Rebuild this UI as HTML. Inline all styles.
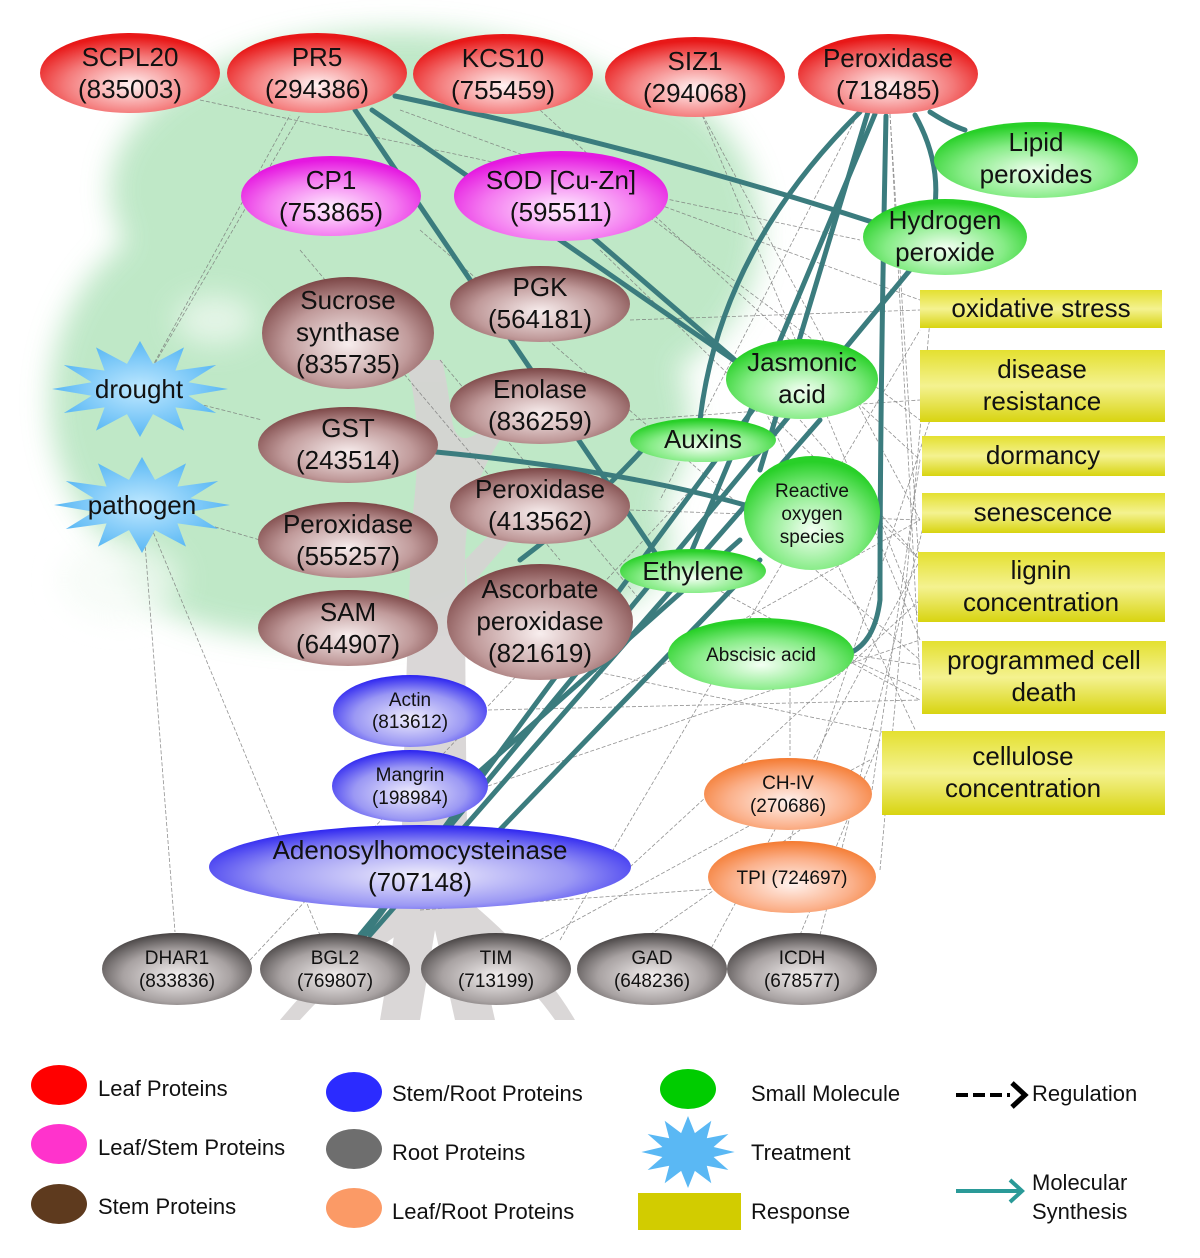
<!DOCTYPE html>
<html><head><meta charset="utf-8"><style>
html,body{margin:0;padding:0;background:#fff;}
svg{display:block;font-family:"Liberation Sans",Arial,sans-serif;}
</style></head><body>
<svg width="1200" height="1258" viewBox="0 0 1200 1258" xmlns="http://www.w3.org/2000/svg">
<defs>
<filter id="blur" x="-20%" y="-20%" width="140%" height="140%"><feGaussianBlur stdDeviation="14"/></filter>
<radialGradient id="gR" cx="50%" cy="65%" r="60%"><stop offset="0" stop-color="#fff3f3"/><stop offset="0.6" stop-color="#f47a7a"/><stop offset="1" stop-color="#e81818"/></radialGradient>
<radialGradient id="gM" cx="50%" cy="65%" r="60%"><stop offset="0" stop-color="#fff0ff"/><stop offset="0.6" stop-color="#f47af0"/><stop offset="1" stop-color="#e518e0"/></radialGradient>
<radialGradient id="gB" cx="50%" cy="60%" r="60%"><stop offset="0" stop-color="#f8eeee"/><stop offset="0.6" stop-color="#c09a9a"/><stop offset="1" stop-color="#7c4646"/></radialGradient>
<radialGradient id="gU" cx="50%" cy="60%" r="60%"><stop offset="0" stop-color="#f0eefc"/><stop offset="0.6" stop-color="#9b98f4"/><stop offset="1" stop-color="#2a22f0"/></radialGradient>
<radialGradient id="gG" cx="50%" cy="60%" r="60%"><stop offset="0" stop-color="#f4f0f0"/><stop offset="0.6" stop-color="#a8a2a2"/><stop offset="1" stop-color="#464242"/></radialGradient>
<radialGradient id="gO" cx="50%" cy="60%" r="60%"><stop offset="0" stop-color="#fff2ee"/><stop offset="0.6" stop-color="#fbb08a"/><stop offset="1" stop-color="#f47a30"/></radialGradient>
<radialGradient id="gN" cx="50%" cy="65%" r="60%"><stop offset="0" stop-color="#f4fff4"/><stop offset="0.6" stop-color="#86ec86"/><stop offset="1" stop-color="#28d028"/></radialGradient>
<linearGradient id="gY" x1="0" y1="0" x2="0" y2="1"><stop offset="0" stop-color="#e4e030"/><stop offset="0.5" stop-color="#f4f290"/><stop offset="1" stop-color="#d8d410"/></linearGradient>
<path id="star" d="M88,0 L48.3,6.7 L76.2,24 L35.4,18.4 L44,41.6 L13,25.1 L0,48 L-13,25.1 L-44,41.6 L-35.4,18.4 L-76.2,24 L-48.3,6.7 L-88,0 L-48.3,-6.7 L-76.2,-24 L-35.4,-18.4 L-44,-41.6 L-13,-25.1 L0,-48 L13,-25.1 L44,-41.6 L35.4,-18.4 L76.2,-24 L48.3,-6.7 Z"/>
<radialGradient id="gS" cx="50%" cy="50%" r="50%"><stop offset="0" stop-color="#bfe8ff"/><stop offset="1" stop-color="#5ab8f4"/></radialGradient>
</defs>

<g filter="url(#blur)" fill="#b4e4be" opacity="0.85">
<ellipse cx="400" cy="190" rx="290" ry="160"/>
<ellipse cx="220" cy="400" rx="170" ry="190"/>
<ellipse cx="470" cy="420" rx="220" ry="170"/>
<ellipse cx="620" cy="230" rx="140" ry="150"/>
<ellipse cx="320" cy="570" rx="190" ry="70"/>
<ellipse cx="560" cy="540" rx="110" ry="80"/>
</g>
<g fill="#f4fbf5" filter="url(#blur)" opacity="0.7">
<ellipse cx="215" cy="320" rx="40" ry="25"/>
<ellipse cx="120" cy="580" rx="60" ry="40"/>
</g>
<g fill="#d6d3d3" opacity="0.9">
<path d="M405,360 Q425,420 412,520 Q405,700 400,900 L380,1020 L420,1020 L435,930 L455,1020 L495,1020 L468,900 Q465,700 465,560 Q465,480 515,420 L500,412 Q458,460 452,420 Q447,380 442,360 Z"/>
<path d="M465,560 Q520,500 580,470 L585,480 Q530,510 468,590 Z"/>
<path d="M400,900 Q330,960 280,1020 L300,1020 Q350,965 405,930 Z"/>
<path d="M468,900 Q540,960 575,1020 L555,1020 Q520,970 462,930 Z"/>
</g>

<g stroke="#777" stroke-width="0.8" stroke-dasharray="4,2" fill="none" opacity="0.8">
<path d="M140,389 L290,115"/><path d="M140,389 L300,115"/><path d="M140,389 L262,420"/><path d="M140,505 L260,540"/><path d="M142,505 L175,932"/><path d="M142,505 L320,935"/>
<path d="M200,100 L860,240"/><path d="M400,110 L920,300"/><path d="M540,110 L920,460"/><path d="M700,110 L920,520"/>
<path d="M890,114 L920,580"/><path d="M890,114 L920,680"/><path d="M860,110 L660,500"/>
<path d="M420,230 L920,660"/><path d="M630,320 L920,310"/><path d="M630,420 L920,400"/><path d="M630,510 L920,520"/>
<path d="M853,655 L920,665"/><path d="M853,660 L920,690"/><path d="M488,710 L920,700"/><path d="M488,786 L920,640"/>
<path d="M630,867 L920,600"/><path d="M700,969 L920,560"/><path d="M820,935 L930,500"/><path d="M790,840 L930,420"/>
<path d="M560,940 L920,330"/><path d="M880,870 L930,320"/><path d="M872,790 L920,460"/><path d="M790,620 L790,757"/>
<path d="M250,960 L700,480"/><path d="M440,360 L640,600"/><path d="M300,250 L560,560"/><path d="M600,250 L920,560"/>
<path d="M800,420 L920,560"/><path d="M880,520 L920,620"/><path d="M700,580 L920,700"/><path d="M540,660 L920,740"/>
<path d="M540,940 L870,760"/><path d="M420,910 L840,880"/><path d="M650,935 L800,830"/><path d="M800,935 L880,740"/>
<path d="M700,110 L920,640"/><path d="M640,210 L920,420"/><path d="M760,400 L920,740"/><path d="M600,700 L920,520"/>
</g>

<g stroke="#3b7c7e" stroke-width="5" fill="none" stroke-linecap="round">
<path d="M395,96 Q650,150 872,222"/>
<path d="M355,110 L660,560"/>
<path d="M372,110 Q560,240 745,368"/>
<path d="M590,235 L742,366"/>
<path d="M860,112 Q720,250 700,420"/>
<path d="M868,112 L760,470"/>
<path d="M875,114 L690,555"/>
<path d="M886,116 Q880,400 880,600 Q875,640 852,652"/>
<path d="M930,112 Q950,125 965,130"/>
<path d="M915,115 Q940,160 935,205"/>
<path d="M436,452 Q620,470 745,505"/>
<path d="M360,935 L910,270"/>
<path d="M365,935 L760,400"/>
<path d="M370,935 L820,420"/>
<path d="M470,780 L740,540"/>
<path d="M490,840 L760,560"/>
<path d="M520,560 Q600,500 660,430"/>
</g>

<g fill="url(#gY)">
<rect x="920" y="290" width="242" height="38"/>
<rect x="920" y="350" width="245" height="72"/>
<rect x="922" y="436" width="243" height="40"/>
<rect x="922" y="493" width="243" height="40"/>
<rect x="918" y="552" width="247" height="70"/>
<rect x="922" y="641" width="244" height="73"/>
<rect x="882" y="731" width="283" height="84"/>
</g>
<g font-size="26" text-anchor="middle" fill="#111">
<text x="1041" y="317">oxidative stress</text>
<text x="1042" y="378">disease</text><text x="1042" y="410">resistance</text>
<text x="1043" y="464">dormancy</text>
<text x="1043" y="521">senescence</text>
<text x="1041" y="579">lignin</text><text x="1041" y="611">concentration</text>
<text x="1044" y="669">programmed cell</text><text x="1044" y="701">death</text>
<text x="1023" y="765">cellulose</text><text x="1023" y="797">concentration</text>
</g>

<use href="#star" transform="translate(140,389)" fill="url(#gS)"/>
<use href="#star" transform="translate(142,505)" fill="url(#gS)"/>
<g font-size="26" text-anchor="middle" fill="#111">
<text x="139" y="398">drought</text><text x="142" y="514">pathogen</text>
</g>

<g>
<ellipse cx="130" cy="73" rx="90" ry="40" fill="url(#gR)"/>
<ellipse cx="317" cy="73" rx="90" ry="40" fill="url(#gR)"/>
<ellipse cx="503" cy="74" rx="90" ry="40" fill="url(#gR)"/>
<ellipse cx="695" cy="77" rx="90" ry="40" fill="url(#gR)"/>
<ellipse cx="888" cy="74" rx="90" ry="40" fill="url(#gR)"/>
<ellipse cx="1036" cy="160" rx="102" ry="38" fill="url(#gN)"/>
<ellipse cx="945" cy="237" rx="82" ry="38" fill="url(#gN)"/>
<ellipse cx="331" cy="196" rx="90" ry="40" fill="url(#gM)"/>
<ellipse cx="561" cy="196" rx="107" ry="45" fill="url(#gM)"/>
<ellipse cx="348" cy="333" rx="86" ry="56" fill="url(#gB)"/>
<ellipse cx="540" cy="304" rx="90" ry="38" fill="url(#gB)"/>
<ellipse cx="540" cy="406" rx="90" ry="38" fill="url(#gB)"/>
<ellipse cx="348" cy="445" rx="90" ry="38" fill="url(#gB)"/>
<ellipse cx="540" cy="506" rx="90" ry="38" fill="url(#gB)"/>
<ellipse cx="348" cy="540" rx="90" ry="38" fill="url(#gB)"/>
<ellipse cx="348" cy="628" rx="90" ry="38" fill="url(#gB)"/>
<ellipse cx="540" cy="622" rx="93" ry="58" fill="url(#gB)"/>
<ellipse cx="802" cy="379" rx="76" ry="40" fill="url(#gN)"/>
<ellipse cx="703" cy="440" rx="73" ry="22" fill="url(#gN)"/>
<ellipse cx="812" cy="513" rx="68" ry="57" fill="url(#gN)"/>
<ellipse cx="693" cy="571" rx="73" ry="22" fill="url(#gN)"/>
<ellipse cx="761" cy="654" rx="93" ry="36" fill="url(#gN)"/>
<ellipse cx="410" cy="711" rx="77" ry="36" fill="url(#gU)"/>
<ellipse cx="410" cy="786" rx="78" ry="36" fill="url(#gU)"/>
<ellipse cx="420" cy="867" rx="211" ry="42" fill="url(#gU)"/>
<ellipse cx="788" cy="794" rx="84" ry="36" fill="url(#gO)"/>
<ellipse cx="792" cy="877" rx="84" ry="36" fill="url(#gO)"/>
<ellipse cx="177" cy="969" rx="75" ry="36" fill="url(#gG)"/>
<ellipse cx="335" cy="969" rx="75" ry="36" fill="url(#gG)"/>
<ellipse cx="496" cy="969" rx="75" ry="36" fill="url(#gG)"/>
<ellipse cx="652" cy="969" rx="75" ry="36" fill="url(#gG)"/>
<ellipse cx="802" cy="969" rx="75" ry="36" fill="url(#gG)"/>
</g>

<g font-size="26" text-anchor="middle" fill="#111">
<text x="130" y="66">SCPL20</text><text x="130" y="98">(835003)</text>
<text x="317" y="66">PR5</text><text x="317" y="98">(294386)</text>
<text x="503" y="67">KCS10</text><text x="503" y="99">(755459)</text>
<text x="695" y="70">SIZ1</text><text x="695" y="102">(294068)</text>
<text x="888" y="67">Peroxidase</text><text x="888" y="99">(718485)</text>
<text x="1036" y="151">Lipid</text><text x="1036" y="183">peroxides</text>
<text x="945" y="229">Hydrogen</text><text x="945" y="261">peroxide</text>
<text x="331" y="189">CP1</text><text x="331" y="221">(753865)</text>
<text x="561" y="189">SOD [Cu-Zn]</text><text x="561" y="221">(595511)</text>
<text x="348" y="309">Sucrose</text><text x="348" y="341">synthase</text><text x="348" y="373">(835735)</text>
<text x="540" y="296">PGK</text><text x="540" y="328">(564181)</text>
<text x="540" y="398">Enolase</text><text x="540" y="430">(836259)</text>
<text x="348" y="437">GST</text><text x="348" y="469">(243514)</text>
<text x="540" y="498">Peroxidase</text><text x="540" y="530">(413562)</text>
<text x="348" y="533">Peroxidase</text><text x="348" y="565">(555257)</text>
<text x="348" y="621">SAM</text><text x="348" y="653">(644907)</text>
<text x="540" y="598">Ascorbate</text><text x="540" y="630">peroxidase</text><text x="540" y="662">(821619)</text>
<text x="802" y="371">Jasmonic</text><text x="802" y="403">acid</text>
<text x="703" y="448">Auxins</text>
<text x="693" y="580">Ethylene</text>
<text x="420" y="859">Adenosylhomocysteinase</text><text x="420" y="891">(707148)</text>
</g>
<g font-size="19" text-anchor="middle" fill="#111">
<text x="812" y="497">Reactive</text><text x="812" y="520">oxygen</text><text x="812" y="543">species</text>
<text x="761" y="661">Abscisic acid</text>
<text x="410" y="706">Actin</text><text x="410" y="728">(813612)</text>
<text x="410" y="781">Mangrin</text><text x="410" y="804">(198984)</text>
<text x="788" y="789">CH-IV</text><text x="788" y="812">(270686)</text>
<text x="792" y="884">TPI (724697)</text>
<text x="177" y="964">DHAR1</text><text x="177" y="987">(833836)</text>
<text x="335" y="964">BGL2</text><text x="335" y="987">(769807)</text>
<text x="496" y="964">TIM</text><text x="496" y="987">(713199)</text>
<text x="652" y="964">GAD</text><text x="652" y="987">(648236)</text>
<text x="802" y="964">ICDH</text><text x="802" y="987">(678577)</text>
</g>

<ellipse cx="59" cy="1085" rx="28" ry="20" fill="#f00"/>
<ellipse cx="59" cy="1144" rx="28" ry="20" fill="#ff33cc"/>
<ellipse cx="59" cy="1204" rx="28" ry="20" fill="#5e3a1e"/>
<ellipse cx="354" cy="1092" rx="28" ry="20" fill="#2b2bff"/>
<ellipse cx="354" cy="1149" rx="28" ry="20" fill="#6e6e6e"/>
<ellipse cx="354" cy="1208" rx="28" ry="20" fill="#fb9a66"/>
<ellipse cx="688" cy="1089" rx="28" ry="20" fill="#00cc00"/>
<use href="#star" transform="translate(688,1152) scale(0.53,0.75)" fill="#5ab8f4"/>
<rect x="638" y="1193" width="103" height="37" fill="#d2cc00"/>
<line x1="956" y1="1095" x2="1010" y2="1095" stroke="#000" stroke-width="4" stroke-dasharray="12,5"/>
<path d="M1012,1083 L1025,1095 L1012,1107" stroke="#000" stroke-width="5" fill="none"/>
<line x1="956" y1="1191" x2="1020" y2="1191" stroke="#2a9a98" stroke-width="4"/>
<path d="M1010,1180 L1022,1191 L1010,1202" stroke="#2a9a98" stroke-width="4" fill="none"/>
<g font-size="22" fill="#111">
<text x="98" y="1096">Leaf Proteins</text>
<text x="98" y="1155">Leaf/Stem Proteins</text>
<text x="98" y="1214">Stem Proteins</text>
<text x="392" y="1101">Stem/Root Proteins</text>
<text x="392" y="1160">Root Proteins</text>
<text x="392" y="1219">Leaf/Root Proteins</text>
<text x="751" y="1101">Small Molecule</text>
<text x="751" y="1160">Treatment</text>
<text x="751" y="1219">Response</text>
<text x="1032" y="1101">Regulation</text>
<text x="1032" y="1190">Molecular</text>
<text x="1032" y="1219">Synthesis</text>
</g>
</svg>
</body></html>
